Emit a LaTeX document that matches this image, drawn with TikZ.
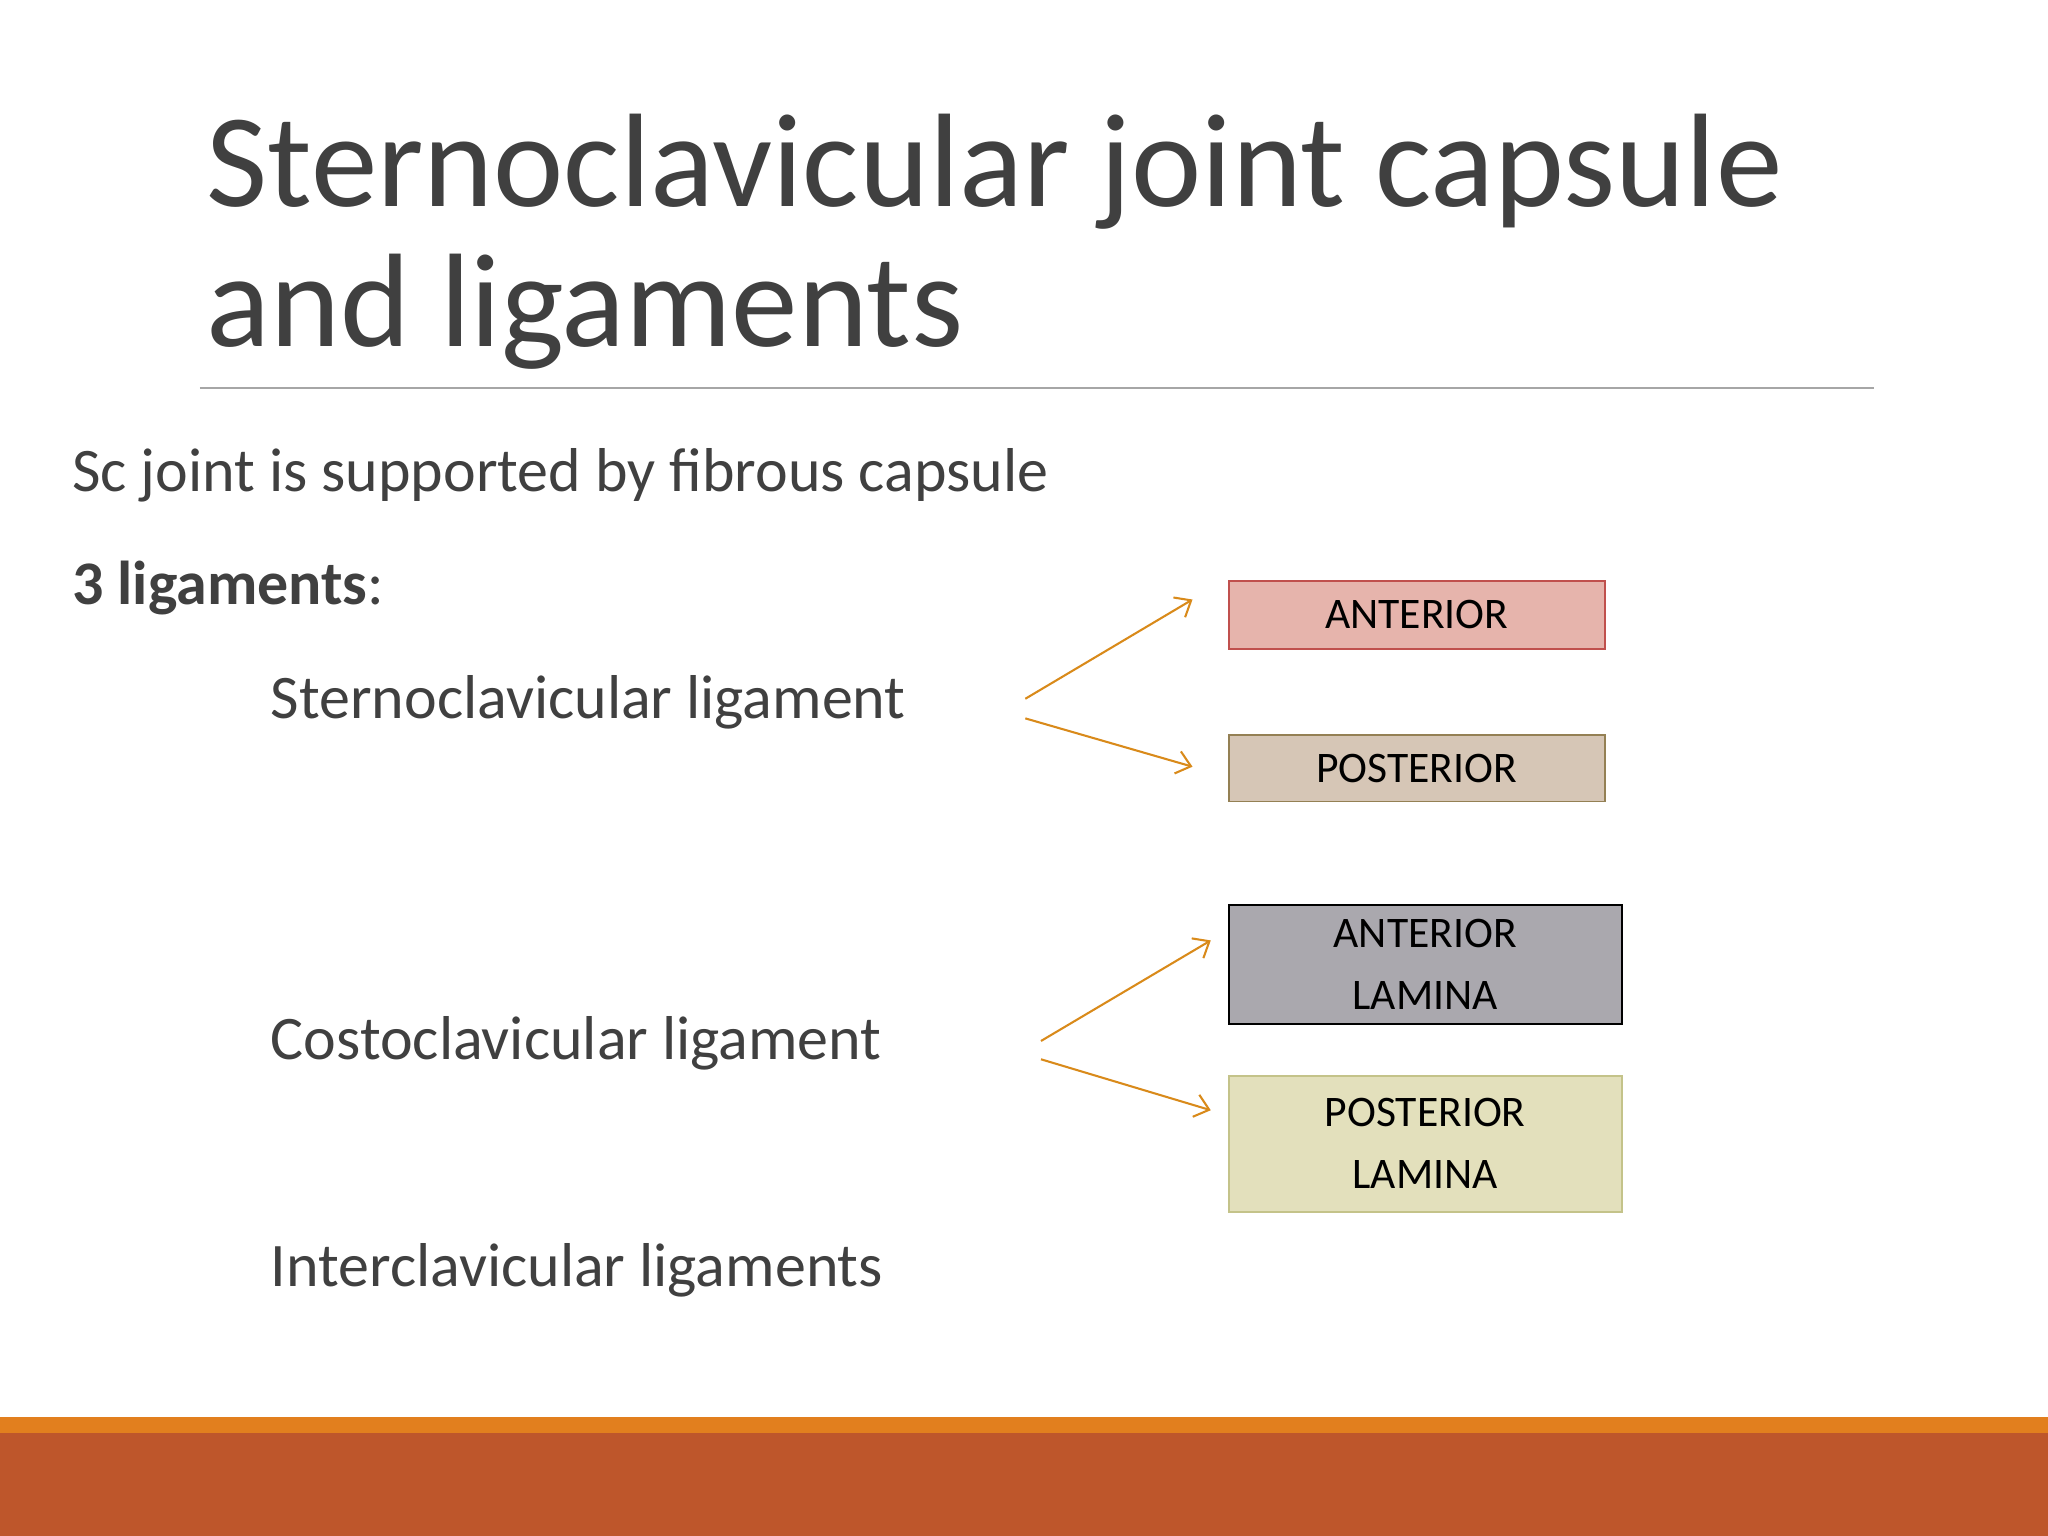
\documentclass[tikz,border=0pt]{standalone}
\usepackage{fontspec}
\setmainfont{Carlito}
\usetikzlibrary{arrows.meta}
\definecolor{txt}{HTML}{404040}
\definecolor{arr}{HTML}{D98A1A}
\definecolor{barO}{HTML}{E27F1E}
\definecolor{barR}{HTML}{BE562B}
\definecolor{b1d}{HTML}{C0504D}
\definecolor{b1f}{RGB}{230,180,172}
\definecolor{b2d}{RGB}{148,128,84}
\definecolor{b2f}{RGB}{214,198,182}
\definecolor{b3f}{RGB}{170,168,174}
\definecolor{b4d}{RGB}{196,195,138}
\definecolor{b4f}{RGB}{227,224,188}
\tikzset{
 lbl/.style={anchor=base west,inner sep=0,text=txt,font=\fontsize{27}{30}\selectfont},
 box/.style={draw,line width=0.8pt,anchor=north west,inner sep=0,align=center,text=black,font=\fontsize{19}{27}\selectfont},
 arw/.style={draw=arr,line width=0.9pt,-{Straight Barb[length=6pt,width=10pt]}}
}
\begin{document}
\begin{tikzpicture}[x=0.02cm,y=-0.02cm]
\useasboundingbox (0,0) rectangle (1568,1176);
\fill[white] (0,0) rectangle (1568,1176);
\fill[barO] (0,1085) rectangle (1568,1097);
\fill[barR] (0,1097) rectangle (1568,1176);
\node[lbl,font=\fontsize{58}{60}\selectfont] (t1) at (158,158) {Sternoclavicular joint capsule};
\node[lbl,font=\fontsize{58}{60}\selectfont] (t2) at (158,265) {and ligaments};
\draw[gray!70,line width=0.8pt] (153,297) -- (1435,297);
\node[lbl] (s1) at (55,376) {Sc joint is supported by fibrous capsule};
\node[lbl] (s2) at (55,463) {\textbf{3 ligaments}:};
\node[lbl] (l1) at (207,550) {Sternoclavicular ligament};
\node[lbl] (l2) at (207,811) {Costoclavicular ligament};
\node[lbl] (l3) at (207,985) {Interclavicular ligaments};
\node[box,draw=b1d,fill=b1f,minimum width=5.76cm,minimum height=1.04cm] (b1) at (940,444) {ANTERIOR};
\node[box,draw=b2d,fill=b2f,minimum width=5.76cm,minimum height=1.02cm] (b2) at (940,562) {POSTERIOR};
\node[box,draw=black,fill=b3f,minimum width=6.02cm,minimum height=1.82cm] (b3) at (940,692) {ANTERIOR\\LAMINA};
\node[box,draw=b4d,fill=b4f,minimum width=6.02cm,minimum height=2.08cm] (b4) at (940,823) {POSTERIOR\\LAMINA};
\coordinate (a1) at (785,535); \coordinate (a1e) at (913,459);
\coordinate (a2) at (785,550); \coordinate (a2e) at (913,587);
\coordinate (a3) at (797,797); \coordinate (a3e) at (927,720);
\coordinate (a4) at (797,811); \coordinate (a4e) at (927,850);
\draw[arw] (a1) -- (a1e);
\draw[arw] (a2) -- (a2e);
\draw[arw] (a3) -- (a3e);
\draw[arw] (a4) -- (a4e);
\end{tikzpicture}
\end{document}
